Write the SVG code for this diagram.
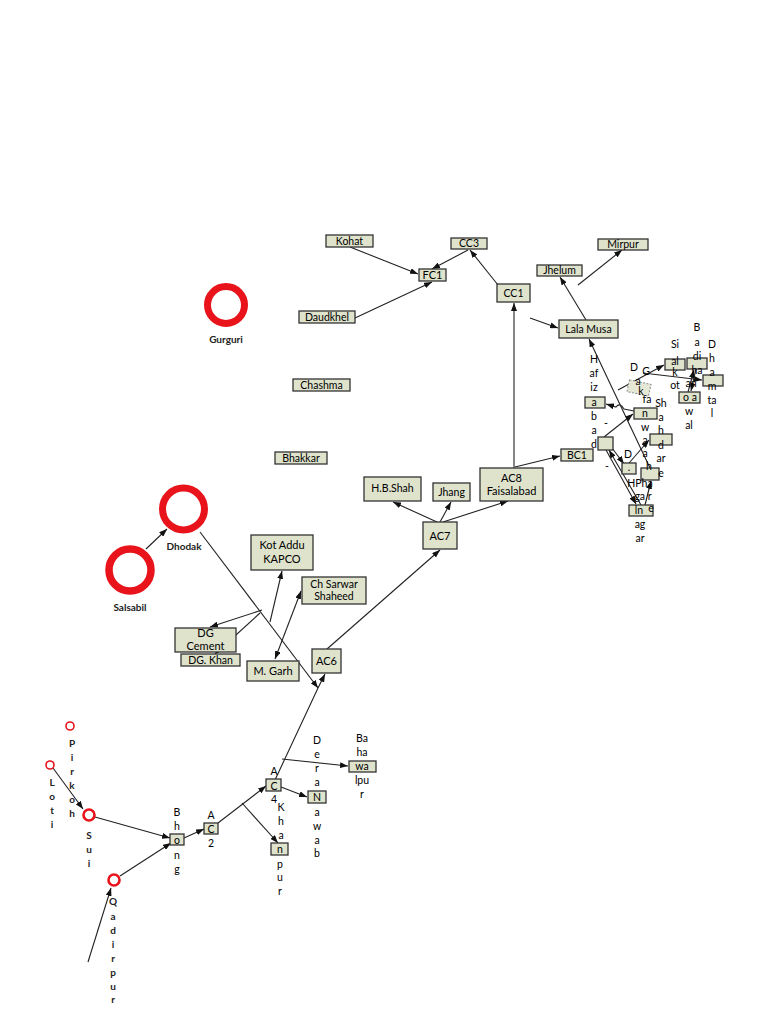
<svg xmlns="http://www.w3.org/2000/svg" width="768" height="1024" viewBox="0 0 768 1024">
<style>
.b{fill:#dfe3cc;stroke:#333;stroke-width:1.3}
.bd{fill:#e6e8d6;stroke:#888;stroke-width:1;stroke-dasharray:2 1.5}
.t{font-family:Lato,"Liberation Sans",sans-serif;font-size:10.5px;fill:#000;text-anchor:middle}
.tl{font-size:11px}
.tb{font-family:Lato,"Liberation Sans",sans-serif;font-size:10px;font-weight:bold;fill:#222;text-anchor:middle}
.c{fill:none;stroke:#e8131b}
.e{fill:none;stroke:#222;stroke-width:1.1;marker-end:url(#a)}
</style>
<defs>
<marker id="a" markerWidth="8" markerHeight="6" refX="8" refY="3" orient="auto-start-reverse" markerUnits="userSpaceOnUse"><path d="M0,0 L8,3 L0,6 z" fill="#111"/></marker>
</defs>
<rect width="768" height="1024" fill="#fff"/>
<g id="connectors">
<line class="e" x1="350" y1="247" x2="418" y2="274"/>
<line class="e" x1="355" y1="318" x2="432" y2="282"/>
<line class="e" x1="468" y1="250" x2="432" y2="269"/>
<line class="e" x1="498" y1="285" x2="470" y2="250"/>
<line class="e" x1="514" y1="468" x2="514" y2="303"/>
<line class="e" x1="515" y1="467" x2="560" y2="456"/>
<line class="e" x1="530" y1="318" x2="558" y2="328"/>
<line class="e" x1="586" y1="320" x2="560" y2="277"/>
<line class="e" x1="578" y1="285" x2="622" y2="250"/>
<line class="e" x1="650" y1="468" x2="589" y2="339"/>
<line class="e" x1="606" y1="450" x2="636" y2="504"/>
<line class="e" x1="641" y1="505" x2="609" y2="450"/>
<line class="e" x1="645" y1="505" x2="651" y2="481"/>
<line class="e" x1="609" y1="444" x2="624" y2="464"/>
<line class="e" x1="604" y1="437" x2="633" y2="414"/>
<path class="e" d="M634,411 L624,409 Q620,402 616,407 L606,404"/>
<line class="e" x1="618" y1="390" x2="664" y2="365"/>
<line class="e" x1="643" y1="373" x2="702" y2="380"/>
<line class="e" x1="696" y1="369" x2="691" y2="391"/>
<line class="e" x1="688" y1="392" x2="694" y2="370"/>
<line class="e" x1="623" y1="470" x2="649" y2="440"/>
<line class="e" x1="146" y1="549" x2="167" y2="529"/>
<line class="e" x1="200" y1="532" x2="318" y2="688"/>
<path class="e" d="M275,780 L318,688 L325,674"/>
<line class="e" x1="327" y1="649" x2="440" y2="550"/>
<line class="e" x1="437" y1="522" x2="393" y2="502"/>
<line class="e" x1="440" y1="522" x2="451" y2="502"/>
<line class="e" x1="443" y1="522" x2="508" y2="501"/>
<line class="e" x1="270" y1="622" x2="282" y2="571"/>
<line class="e" x1="275" y1="659" x2="301" y2="591" style="marker-start:url(#a)"/>
<line class="e" x1="262" y1="610" x2="210" y2="627"/>
<line class="e" x1="260" y1="613" x2="215" y2="654"/>
<line class="e" x1="53" y1="768" x2="83" y2="809"/>
<line class="e" x1="95" y1="817" x2="170" y2="838"/>
<line class="e" x1="120" y1="876" x2="171" y2="843"/>
<line class="e" x1="88" y1="962" x2="111" y2="888"/>
<line class="e" x1="184" y1="838" x2="204" y2="829"/>
<line class="e" x1="218" y1="823" x2="266" y2="786"/>
<line class="e" x1="242" y1="803" x2="278" y2="843"/>
<line class="e" x1="281" y1="787" x2="307" y2="797"/>
<line class="e" x1="282" y1="759" x2="348" y2="766"/>
</g>
<g id="Kohat"><rect class="b" x="326" y="235" width="47" height="12"/><text class="t" x="349.5" y="244.5">Kohat</text></g>
<g id="CC3"><rect class="b" x="451" y="238" width="36" height="11"/><text class="t" x="469" y="247">CC3</text></g>
<g id="FC1"><rect class="b" x="419" y="269" width="27" height="12"/><text class="t tl" x="432.5" y="279">FC1</text></g>
<g id="Daudkhel"><rect class="b" x="299" y="311" width="56" height="12"/><text class="t" x="327" y="321">Daudkhel</text></g>
<g id="CC1"><rect class="b" x="497" y="284" width="33" height="18"/><text class="t" x="513.5" y="297">CC1</text></g>
<g id="Jhelum"><rect class="b" x="537" y="265" width="45" height="11"/><text class="t" x="559.5" y="274">Jhelum</text></g>
<g id="Mirpur"><rect class="b" x="598" y="239" width="50" height="11"/><text class="t" x="623" y="248">Mirpur</text></g>
<g id="LalaMusa"><rect class="b" x="559" y="320" width="59" height="18"/><text class="t" x="588.5" y="333">Lala Musa</text></g>
<g id="Chashma"><rect class="b" x="293" y="379" width="57" height="12"/><text class="t" x="321.5" y="388.5">Chashma</text></g>
<g id="Bhakkar"><rect class="b" x="275" y="452" width="52" height="12"/><text class="t" x="301" y="461.5">Bhakkar</text></g>
<g id="HBShah"><rect class="b" x="364" y="477" width="57" height="24"/><text class="t" x="392.5" y="492">H.B.Shah</text></g>
<g id="Jhang"><rect class="b" x="433" y="483" width="37" height="18"/><text class="t" x="451.5" y="495.5">Jhang</text></g>
<g id="AC8"><rect class="b" x="480" y="468" width="63" height="33"/><text class="t tl" x="511.5" y="481.5">AC8</text><text class="t tl" x="511.5" y="495">Faisalabad</text></g>
<g id="BC1"><rect class="b" x="561" y="449" width="32" height="12"/><text class="t" x="577" y="458.5">BC1</text></g>
<g id="AC7"><rect class="b" x="423" y="522" width="34" height="27"/><text class="t tl" x="440" y="539.5">AC7</text></g>
<g id="KotAddu"><rect class="b" x="251" y="535" width="62" height="35"/><text class="t tl" x="282" y="548.5">Kot Addu</text><text class="t tl" x="282" y="563">KAPCO</text></g>
<g id="ChSarwar"><rect class="b" x="302" y="577" width="64" height="27"/><text class="t" x="334" y="587.5">Ch Sarwar</text><text class="t" x="334" y="600">Shaheed</text></g>
<g id="DGCement"><rect class="b" x="175" y="628" width="61" height="24"/><text class="t tl" x="205.5" y="637">DG</text><text class="t tl" x="205.5" y="650">Cement</text></g>
<g id="DGKhan"><rect class="b" x="181" y="654" width="59" height="12"/><text class="t" x="210.5" y="663.5">DG. Khan</text></g>
<g id="MGarh"><rect class="b" x="247" y="661" width="52" height="20"/><text class="t tl" x="273" y="675">M. Garh</text></g>
<g id="AC6"><rect class="b" x="312" y="649" width="29" height="24"/><text class="t tl" x="326.5" y="665">AC6</text></g>
<g id="Gurguri"><circle class="c" cx="226" cy="305" r="18.5" stroke-width="7"/><text class="tb" x="226" y="343">Gurguri</text></g>
<g id="Dhodak"><circle class="c" cx="183.5" cy="509" r="21" stroke-width="7"/><text class="tb" x="184" y="550">Dhodak</text></g>
<g id="Salsabil"><circle class="c" cx="130" cy="570" r="21" stroke-width="7.5"/><text class="tb" x="130" y="611">Salsabil</text></g>
<g id="Pirkoh"><circle class="c" cx="70" cy="726" r="4" stroke-width="1.6"/><text class="tb"><tspan x="72" y="747">P</tspan><tspan x="72" y="761">i</tspan><tspan x="72" y="775">r</tspan><tspan x="72" y="789">k</tspan><tspan x="72" y="803">o</tspan><tspan x="72" y="817">h</tspan></text></g>
<g id="Loti"><circle class="c" cx="50" cy="765" r="4" stroke-width="1.6"/><text class="tb"><tspan x="52" y="786">L</tspan><tspan x="52" y="800">o</tspan><tspan x="52" y="814">t</tspan><tspan x="52" y="828">i</tspan></text></g>
<g id="Sui"><circle class="c" cx="89" cy="815" r="5.5" stroke-width="2.6"/><text class="tb"><tspan x="89" y="839">S</tspan><tspan x="89" y="853">u</tspan><tspan x="89" y="867">i</tspan></text></g>
<g id="Qadirpur"><circle class="c" cx="114" cy="880" r="5.5" stroke-width="2.6"/><text class="tb"><tspan x="113" y="905">Q</tspan><tspan x="113" y="920">a</tspan><tspan x="113" y="934">d</tspan><tspan x="113" y="948">i</tspan><tspan x="113" y="962">r</tspan><tspan x="113" y="976">p</tspan><tspan x="113" y="990">u</tspan><tspan x="113" y="1003">r</tspan></text></g>
<g id="Bhong"><rect class="b" x="170" y="834" width="14" height="11"/><text class="t"><tspan x="177" y="816">B</tspan><tspan x="177" y="830">h</tspan><tspan x="177" y="844">o</tspan><tspan x="177" y="859">n</tspan><tspan x="177" y="873">g</tspan></text></g>
<g id="AC2"><rect class="b" x="204" y="823" width="14" height="11"/><text class="t"><tspan x="211" y="819">A</tspan><tspan x="211" y="833">C</tspan><tspan x="211" y="847">2</tspan></text></g>
<g id="AC4"><rect class="b" x="266" y="779" width="15" height="12"/><text class="t"><tspan x="274" y="775">A</tspan><tspan x="274" y="790">C</tspan><tspan x="274" y="803">4</tspan></text></g>
<g id="Khanpur"><rect class="b" x="271" y="843" width="17" height="12"/><text class="t"><tspan x="281" y="811">K</tspan><tspan x="281" y="825">h</tspan><tspan x="281" y="839">a</tspan><tspan x="280" y="853">n</tspan><tspan x="280" y="868">p</tspan><tspan x="280" y="881">u</tspan><tspan x="280" y="895">r</tspan></text></g>
<g id="DeraNawab"><rect class="b" x="308" y="791" width="18" height="12"/><text class="t"><tspan x="317" y="744">D</tspan><tspan x="317" y="758">e</tspan><tspan x="317" y="772">r</tspan><tspan x="317" y="786">a</tspan><tspan x="317" y="801">N</tspan><tspan x="317" y="816">a</tspan><tspan x="317" y="830">w</tspan><tspan x="317" y="844">a</tspan><tspan x="317" y="857">b</tspan></text></g>
<g id="Bahawalpur"><rect class="b" x="349" y="761" width="27" height="11"/><text class="t"><tspan x="362" y="742">Ba</tspan><tspan x="362" y="756">ha</tspan><tspan x="362" y="770">wa</tspan><tspan x="362" y="784">lpu</tspan><tspan x="362" y="798">r</tspan></text></g>
<g id="Hafizabad"><rect class="b" x="585" y="397" width="20" height="11"/><text class="t"><tspan x="594" y="363">H</tspan><tspan x="594" y="377">af</tspan><tspan x="594" y="391">iz</tspan><tspan x="594" y="406">a</tspan><tspan x="594" y="420">b</tspan><tspan x="594" y="434">a</tspan><tspan x="594" y="448">d</tspan></text></g>
<g id="NodeD1"><rect class="b" x="598" y="437" width="15" height="13"/><text class="t"><tspan x="606" y="427">-</tspan><tspan x="607" y="470">-</tspan></text></g>
<g id="NodeDG"><rect class="bd" x="628" y="382" width="22" height="12" transform="rotate(12 639 388)"/><text class="t"><tspan x="634" y="371">D</tspan><tspan x="646" y="375">G</tspan><tspan x="638" y="385">a</tspan><tspan x="641" y="395">k</tspan></text></g>
<g id="NodeFa"><rect class="b" x="634" y="408" width="23" height="11"/><text class="t"><tspan x="647" y="403">fa</tspan><tspan x="645" y="417">n</tspan><tspan x="645" y="431">w</tspan><tspan x="645" y="444">a</tspan><tspan x="645" y="457">a</tspan></text></g>
<g id="NodeSh"><rect class="b" x="650" y="434" width="22" height="11"/><text class="t"><tspan x="661" y="407">Sh</tspan><tspan x="661" y="421">a</tspan><tspan x="661" y="434">h</tspan><tspan x="661" y="449">d</tspan><tspan x="661" y="462">ar</tspan></text></g>
<g id="NodeDot"><rect class="b" x="622" y="463" width="14" height="11"/><text class="t"><tspan x="628" y="458">D</tspan><tspan x="629" y="471">.</tspan></text></g>
<g id="NodeH"><rect class="b" x="641" y="468" width="18" height="12"/><text class="t"><tspan x="649" y="470">h</tspan><tspan x="661" y="477">e</tspan><tspan x="640" y="487">HPha</tspan><tspan x="643" y="500">ga r</tspan></text></g>
<g id="NodeLn"><rect class="b" x="629" y="505" width="24" height="11"/><text class="t"><tspan x="639" y="514">ln</tspan><tspan x="651" y="512">e</tspan><tspan x="640" y="528">ag</tspan><tspan x="640" y="542">ar</tspan></text></g>
<g id="Sialkot"><rect class="b" x="665" y="359" width="20" height="11"/><text class="t"><tspan x="675" y="348">Si</tspan><tspan x="675" y="365">al</tspan><tspan x="675" y="376">k</tspan><tspan x="675" y="389">ot</tspan></text></g>
<g id="Badiana"><rect class="b" x="687" y="358" width="20" height="11"/><text class="t"><tspan x="697" y="331">B</tspan><tspan x="697" y="346">a</tspan><tspan x="697" y="360">di</tspan><tspan x="697" y="374">ha</tspan><tspan x="691" y="387">an</tspan></text></g>
<g id="NodeOa"><rect class="b" x="679" y="392" width="21" height="11"/><text class="t"><tspan x="690" y="401">o a</tspan><tspan x="689" y="415">w</tspan><tspan x="689" y="429">al</tspan></text></g>
<g id="Dhamtal"><rect class="b" x="703" y="375" width="20" height="11"/><text class="t"><tspan x="712" y="348">D</tspan><tspan x="712" y="362">h</tspan><tspan x="712" y="376">a</tspan><tspan x="712" y="390">m</tspan><tspan x="712" y="404">ta</tspan><tspan x="712" y="417">l</tspan></text></g>
</svg>
